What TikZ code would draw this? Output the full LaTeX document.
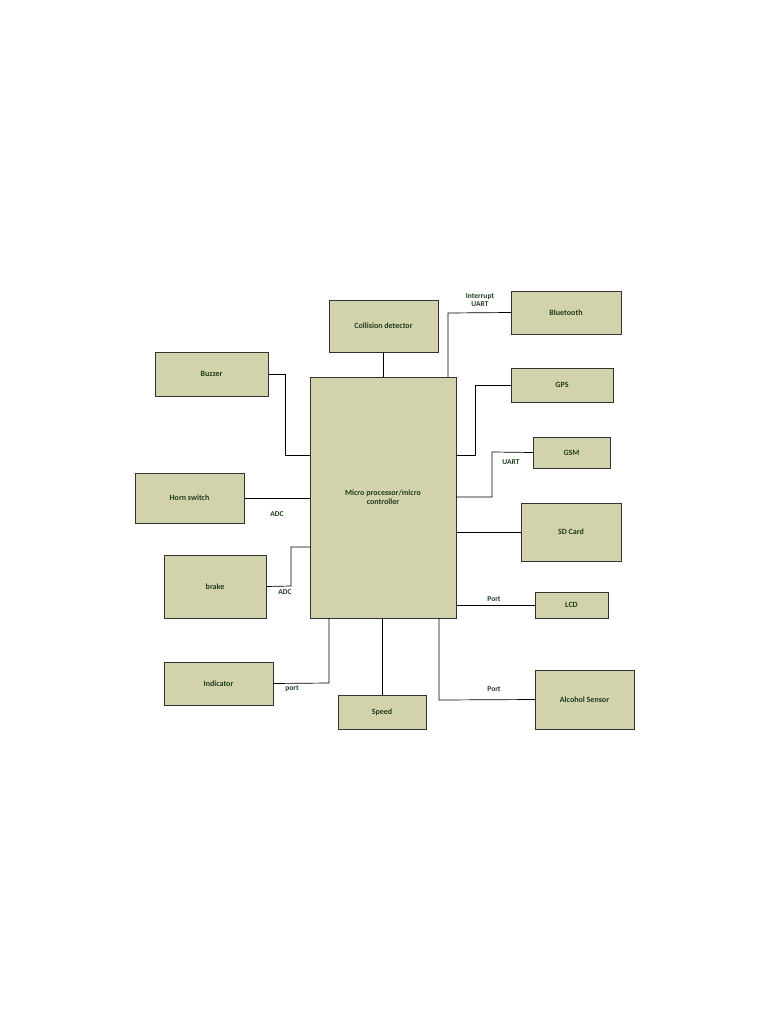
\documentclass[tikz,border=0pt]{standalone}
\usepackage{fontspec}
\setmainfont{Carlito}
\definecolor{boxfill}{RGB}{211,211,171}
\definecolor{txt}{RGB}{30,60,30}
\begin{document}
\begin{tikzpicture}[x=1pt,y=-1pt,
  blk/.style={draw=black!80,fill=boxfill,inner sep=0pt,font=\fontsize{8}{9}\selectfont\bfseries,text=txt,align=center},
  lab/.style={font=\fontsize{7.5}{8.5}\selectfont\bfseries,text=txt,align=center},
  wire/.style={draw=black,line width=0.7pt}]
\useasboundingbox (0,0) rectangle (768,1024);
\newcommand{\bx}[6]{\node[blk,minimum width=#4-#2,minimum height=#5-#3] (#1) at ({(#2+#4)/2},{(#3+#5)/2}) {#6};}
\bx{coll}{329}{300}{438}{352}{Collision detector}
\bx{bt}{511}{291}{621}{334}{Bluetooth}
\bx{buz}{155}{352}{268}{396}{Buzzer}
\bx{mcu}{310}{377}{456}{618}{Micro processor/micro\\controller}
\bx{gps}{511}{368}{613}{402}{GPS}
\bx{gsm}{533}{437}{610}{468}{GSM}
\bx{horn}{135}{473}{244}{523}{Horn switch}
\bx{sd}{521}{503}{621}{561}{SD Card}
\bx{brake}{164}{555}{266}{618}{brake}
\bx{lcd}{535}{592}{608}{618}{LCD}
\bx{ind}{164}{662}{273}{705}{Indicator}
\bx{spd}{338}{695}{426}{729}{Speed}
\bx{alc}{535}{670}{634}{729}{Alcohol Sensor}
\draw[wire] (coll.south) -- (coll.south |- mcu.north);
\draw[wire] (bt.west) -- (448,313) -- (448,377);
\draw[wire] (buz.east) -- (285,374) -- (285,455) -- (310,455);
\draw[wire] (gps.west) -- (475,385) -- (475,455) -- (456,455);
\draw[wire] (gsm.west) -- (492,452) -- (492,497) -- (456,497);
\draw[wire] (horn.east) -- (horn.east -| mcu.west);
\draw[wire] (sd.west) -- (sd.west -| mcu.east);
\draw[wire] (brake.east) -- (291,586) -- (291,547) -- (310,547);
\draw[wire] (lcd.west) -- (lcd.west -| mcu.east);
\draw[wire] (ind.east) -- (329,683) -- (329,618);
\draw[wire] (spd.north) -- (spd.north |- mcu.south);
\draw[wire] (alc.west) -- (439,700) -- (439,618);
\node[lab] (l1) at (480,300) {Interrupt\\UART};
\node[lab] (l2) at (511,462) {UART};
\node[lab] (l3) at (277,514) {ADC};
\node[lab] (l4) at (285,592) {ADC};
\node[lab] (l5) at (292,689) {port};
\node[lab] (l6) at (494,599) {Port};
\node[lab] (l7) at (494,689) {Port};
\end{tikzpicture}
\end{document}
